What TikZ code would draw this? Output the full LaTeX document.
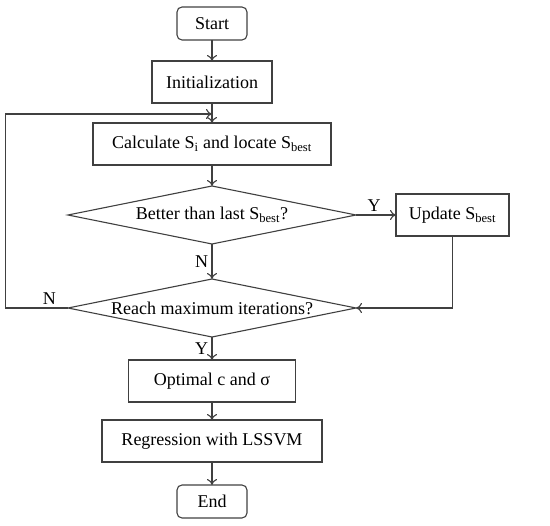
\documentclass[tikz,border=0pt]{standalone}
\usepackage{fontspec}
\setmainfont{Liberation Serif}
\usetikzlibrary{positioning,shapes.geometric,arrows.meta}

\tikzset{
  terminal/.style={draw=black!75, rounded corners=5pt, minimum width=70pt, minimum height=33pt, inner sep=0pt, outer sep=0pt},
  process/.style={draw=black!75, minimum height=42pt, inner sep=0pt, outer sep=0pt},
  decision/.style={draw=black!75, diamond, minimum width=288pt, minimum height=58pt, inner sep=0pt, outer sep=0pt},
  flow/.style={draw=black!75, -{To[length=6pt,width=10pt]}},
}

\begin{document}
\begin{tikzpicture}[x=1pt, y=1pt, node distance=21pt, font=\fontsize{18}{21}\selectfont, line width=1.1pt]
\useasboundingbox (0,0) rectangle (550,-526);

\node[terminal] (start) at (212,-23.5) {Start};
\node[process, minimum width=120pt] (init) [below=of start] {Initialization};
\node[process, minimum width=238pt] (calc) [below=20pt of init] {Calculate S\textsubscript{i} and locate S\textsubscript{best}};
\node[decision] (better) [below=of calc] {\makebox[0pt]{Better than last S\textsubscript{best}?}};
\node[process, minimum width=113pt] (update) [right=40pt of better] {Update S\textsubscript{best}};
\node[decision] (reach) [below=35pt of better] {\makebox[0pt]{Reach maximum iterations?}};
\node[process, minimum width=167pt] (optimal) [below=23pt of reach] {Optimal c and σ};
\node[process, minimum width=220pt] (regress) [below=18pt of optimal] {Regression with LSSVM};
\node[terminal] (end) [below=23pt of regress] {End};
\coordinate[below=11pt of init] (join);

\draw[flow] (start) -- (init);
\draw[flow] (init) -- (calc);
\draw[flow] (calc) -- (better);
\draw[flow] (better) -- node[above, pos=0.45] {Y} (update);
\draw[flow] (better) -- node[left] {N} (reach);
\draw[flow] (update.south) |- (reach.east);
\draw[flow] (reach.west) -- node[above, pos=0.3] {N} ++(-62.5,0) |- (join);
\draw[flow] (reach) -- node[left] {Y} (optimal);
\draw[flow] (optimal) -- (regress);
\draw[flow] (regress) -- (end);
\end{tikzpicture}
\end{document}
